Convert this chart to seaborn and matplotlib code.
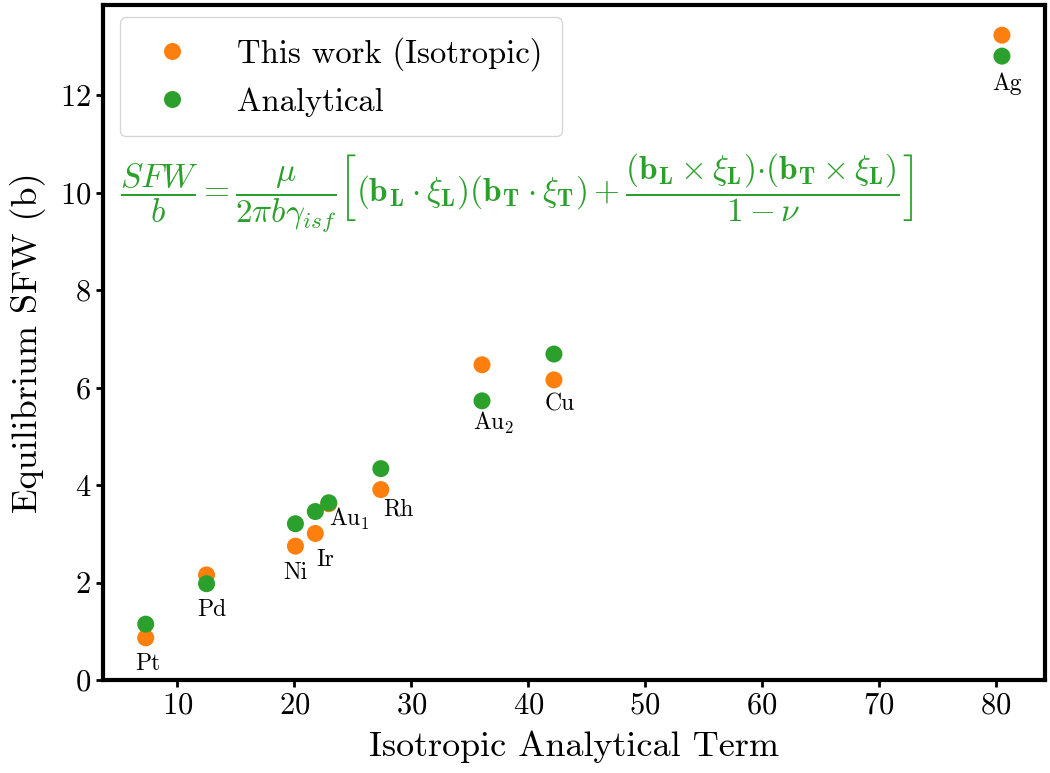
import pandas as pd
import numpy as np
import seaborn as sns
import matplotlib.pyplot as plt

# values
metals = ["Pt", "Pd", "Ni", "Ir", "Au$_1$", "Rh", "Au$_2$", "Cu", "Ag"]
iso_term = [7.3, 12.5, 20.1, 21.8, 22.95, 27.4, 36.05, 42.2, 80.5]
sfw_this_work = [0.87, 2.16, 2.75, 3.01, 3.62, 3.91, 6.47, 6.16, 13.23]
sfw_analytical = [1.15, 1.98, 3.21, 3.46, 3.64, 4.34, 5.73, 6.69, 12.80]
series_names = ["This work (Isotropic)", "Analytical"]

# label offsets in pixels (dx, dy) from the lower marker of each pair
label_offsets = [(2, -26), (5, -26), (0, -27), (10, -26), (21, -15),
                 (18, -20), (12, -22), (6, -25), (5, -28)]


def graph():
    sns.set_style("ticks")
    plt.rcParams.update({
        "font.family": "serif",
        "font.serif": ["cmr10"],
        "mathtext.fontset": "cm",
        "axes.formatter.use_mathtext": True,
        "axes.unicode_minus": False,
        "font.size": 22,
        "text.color": "black",
        "axes.labelcolor": "black",
        "axes.edgecolor": "black",
        "xtick.color": "black",
        "ytick.color": "black",
    })

    df = pd.DataFrame({
        "x": iso_term * 2,
        "y": sfw_this_work + sfw_analytical,
        "series": [series_names[0]] * len(metals) + [series_names[1]] * len(metals),
    })

    fig = plt.figure(figsize=(10.5, 7.73), dpi=100)
    ax = fig.add_axes([0.098, 0.12, 0.897, 0.8735])

    sns.scatterplot(data=df, x="x", y="y", hue="series", ax=ax,
                    palette=["tab:orange", "tab:green"], s=150,
                    edgecolor="none", linewidth=0)

    for name, xv, y1, y2, (dx, dy) in zip(metals, iso_term, sfw_this_work,
                                          sfw_analytical, label_offsets):
        ax.annotate(name, (xv, min(y1, y2)), xytext=(dx, dy),
                    textcoords="offset pixels", ha="center", va="center",
                    fontsize=17)

    eq = (r"$\dfrac{SFW}{b} = \dfrac{\mu}{2\pi b\gamma_{isf}}"
          r"\left[(\mathbf{b_L}\cdot\mathbf{\xi_L})(\mathbf{b_T}\cdot\mathbf{\xi_T})"
          r"+\dfrac{(\mathbf{b_L}\times\mathbf{\xi_L}){\cdot}(\mathbf{b_T}\times\mathbf{\xi_L})}{1-\nu}\right]$")
    ax.text(5.1, 10.0, eq, color="tab:green", fontsize=24, va="center", ha="left")

    ax.set_ylim(0, None)
    ax.set_xlabel("Isotropic Analytical Term", fontsize=26, labelpad=8)
    ax.set_ylabel("Equilibrium SFW (b)", fontsize=26, labelpad=10)
    ax.tick_params(labelsize=22, width=2, length=5)
    for sp in ax.spines.values():
        sp.set_linewidth(3)
        sp.set_visible(True)

    leg = ax.legend(loc="upper left", fontsize=23.5, handletextpad=1.0,
                    borderpad=0.6, borderaxespad=0,
                    bbox_to_anchor=(0.018, 0.982))
    leg.get_frame().set_edgecolor("#cccccc")

    fig.savefig("out.png", dpi=100)


if __name__ == "__main__":
    graph()
